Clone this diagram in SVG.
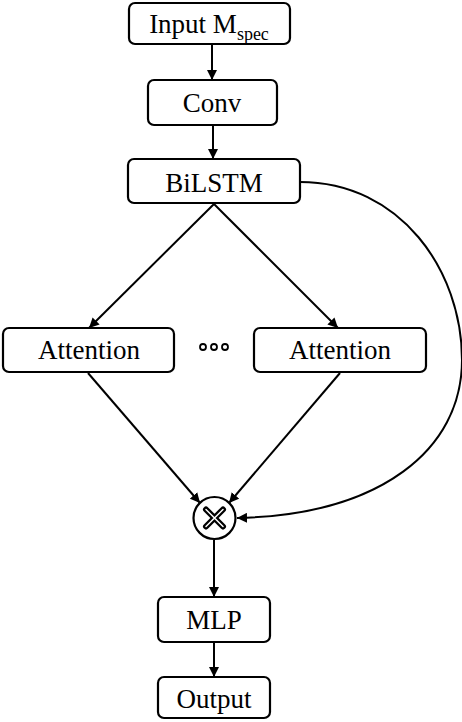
<svg xmlns="http://www.w3.org/2000/svg" width="462" height="722" viewBox="0 0 462 722">
<style>
.box{fill:#fff;stroke:#000;stroke-width:2.2}
.t{font-family:'Liberation Serif','Times New Roman','DejaVu Serif',serif;font-size:27px;fill:#000;text-anchor:middle}
.c{fill:none;stroke:#000;stroke-width:2}
</style>
<defs>
<marker id="ah" viewBox="0 0 10 10" refX="10" refY="5" markerWidth="5" markerHeight="5" orient="auto" markerUnits="strokeWidth">
<path d="M0,0 L10,5 L0,10 Z" fill="#000"/>
</marker>
</defs>
<rect width="462" height="722" fill="#fff"/>
<g id="connectors">
<line class="c" x1="212" y1="45" x2="212" y2="80" marker-end="url(#ah)"/>
<line class="c" x1="213" y1="126" x2="213" y2="159" marker-end="url(#ah)"/>
<line class="c" x1="214" y1="204" x2="89" y2="328" marker-end="url(#ah)"/>
<line class="c" x1="214" y1="204" x2="338" y2="328" marker-end="url(#ah)"/>
<line class="c" x1="88" y1="373" x2="200" y2="503" marker-end="url(#ah)"/>
<line class="c" x1="340" y1="373" x2="229" y2="503" marker-end="url(#ah)"/>
<path class="c" d="M300,182 C400,182 462,270 462,360 C462,450 380,515 237,518" marker-end="url(#ah)"/>
<line class="c" x1="214" y1="540" x2="214" y2="597" marker-end="url(#ah)"/>
<line class="c" x1="214" y1="643" x2="214" y2="677" marker-end="url(#ah)"/>
</g>
<g id="input">
<rect class="box" x="129" y="3" width="161" height="41" rx="6"/>
<text class="t" x="209" y="33" font-family="Liberation Serif, serif">Input M<tspan font-size="18" dy="7">spec</tspan></text>
</g>
<g id="conv">
<rect class="box" x="148" y="80" width="129" height="45" rx="6"/>
<text class="t" x="212" y="112" font-family="Liberation Serif, serif">Conv</text>
</g>
<g id="bilstm">
<rect class="box" x="128" y="159" width="172" height="44" rx="6"/>
<text class="t" x="214" y="192" font-family="Liberation Serif, serif">BiLSTM</text>
</g>
<g id="attention1">
<rect class="box" x="3" y="328" width="171" height="44" rx="6"/>
<text class="t" x="89" y="359" font-family="Liberation Serif, serif">Attention</text>
</g>
<g id="dots">
<circle cx="203" cy="347" r="3" fill="none" stroke="#000" stroke-width="1.8"/>
<circle cx="214" cy="347" r="3" fill="none" stroke="#000" stroke-width="1.8"/>
<circle cx="225" cy="347" r="3" fill="none" stroke="#000" stroke-width="1.8"/>
</g>
<g id="attention2">
<rect class="box" x="254" y="328" width="172" height="44" rx="6"/>
<text class="t" x="340" y="359" font-family="Liberation Serif, serif">Attention</text>
</g>
<g id="multiply">
<circle cx="214.5" cy="518" r="21" fill="#fff" stroke="#000" stroke-width="2.2"/>
<path d="M206,509.5 L223,526.5 M223,509.5 L206,526.5" stroke="#000" stroke-width="6" stroke-linecap="round"/>
<path d="M206,509.5 L223,526.5 M223,509.5 L206,526.5" stroke="#fff" stroke-width="1.5" stroke-linecap="round"/>
</g>
<g id="mlp">
<rect class="box" x="158" y="597" width="112" height="45" rx="6"/>
<text class="t" x="214" y="629" font-family="Liberation Serif, serif">MLP</text>
</g>
<g id="output">
<rect class="box" x="158" y="677" width="112" height="41" rx="6"/>
<text class="t" x="214" y="708" font-family="Liberation Serif, serif">Output</text>
</g>
</svg>
